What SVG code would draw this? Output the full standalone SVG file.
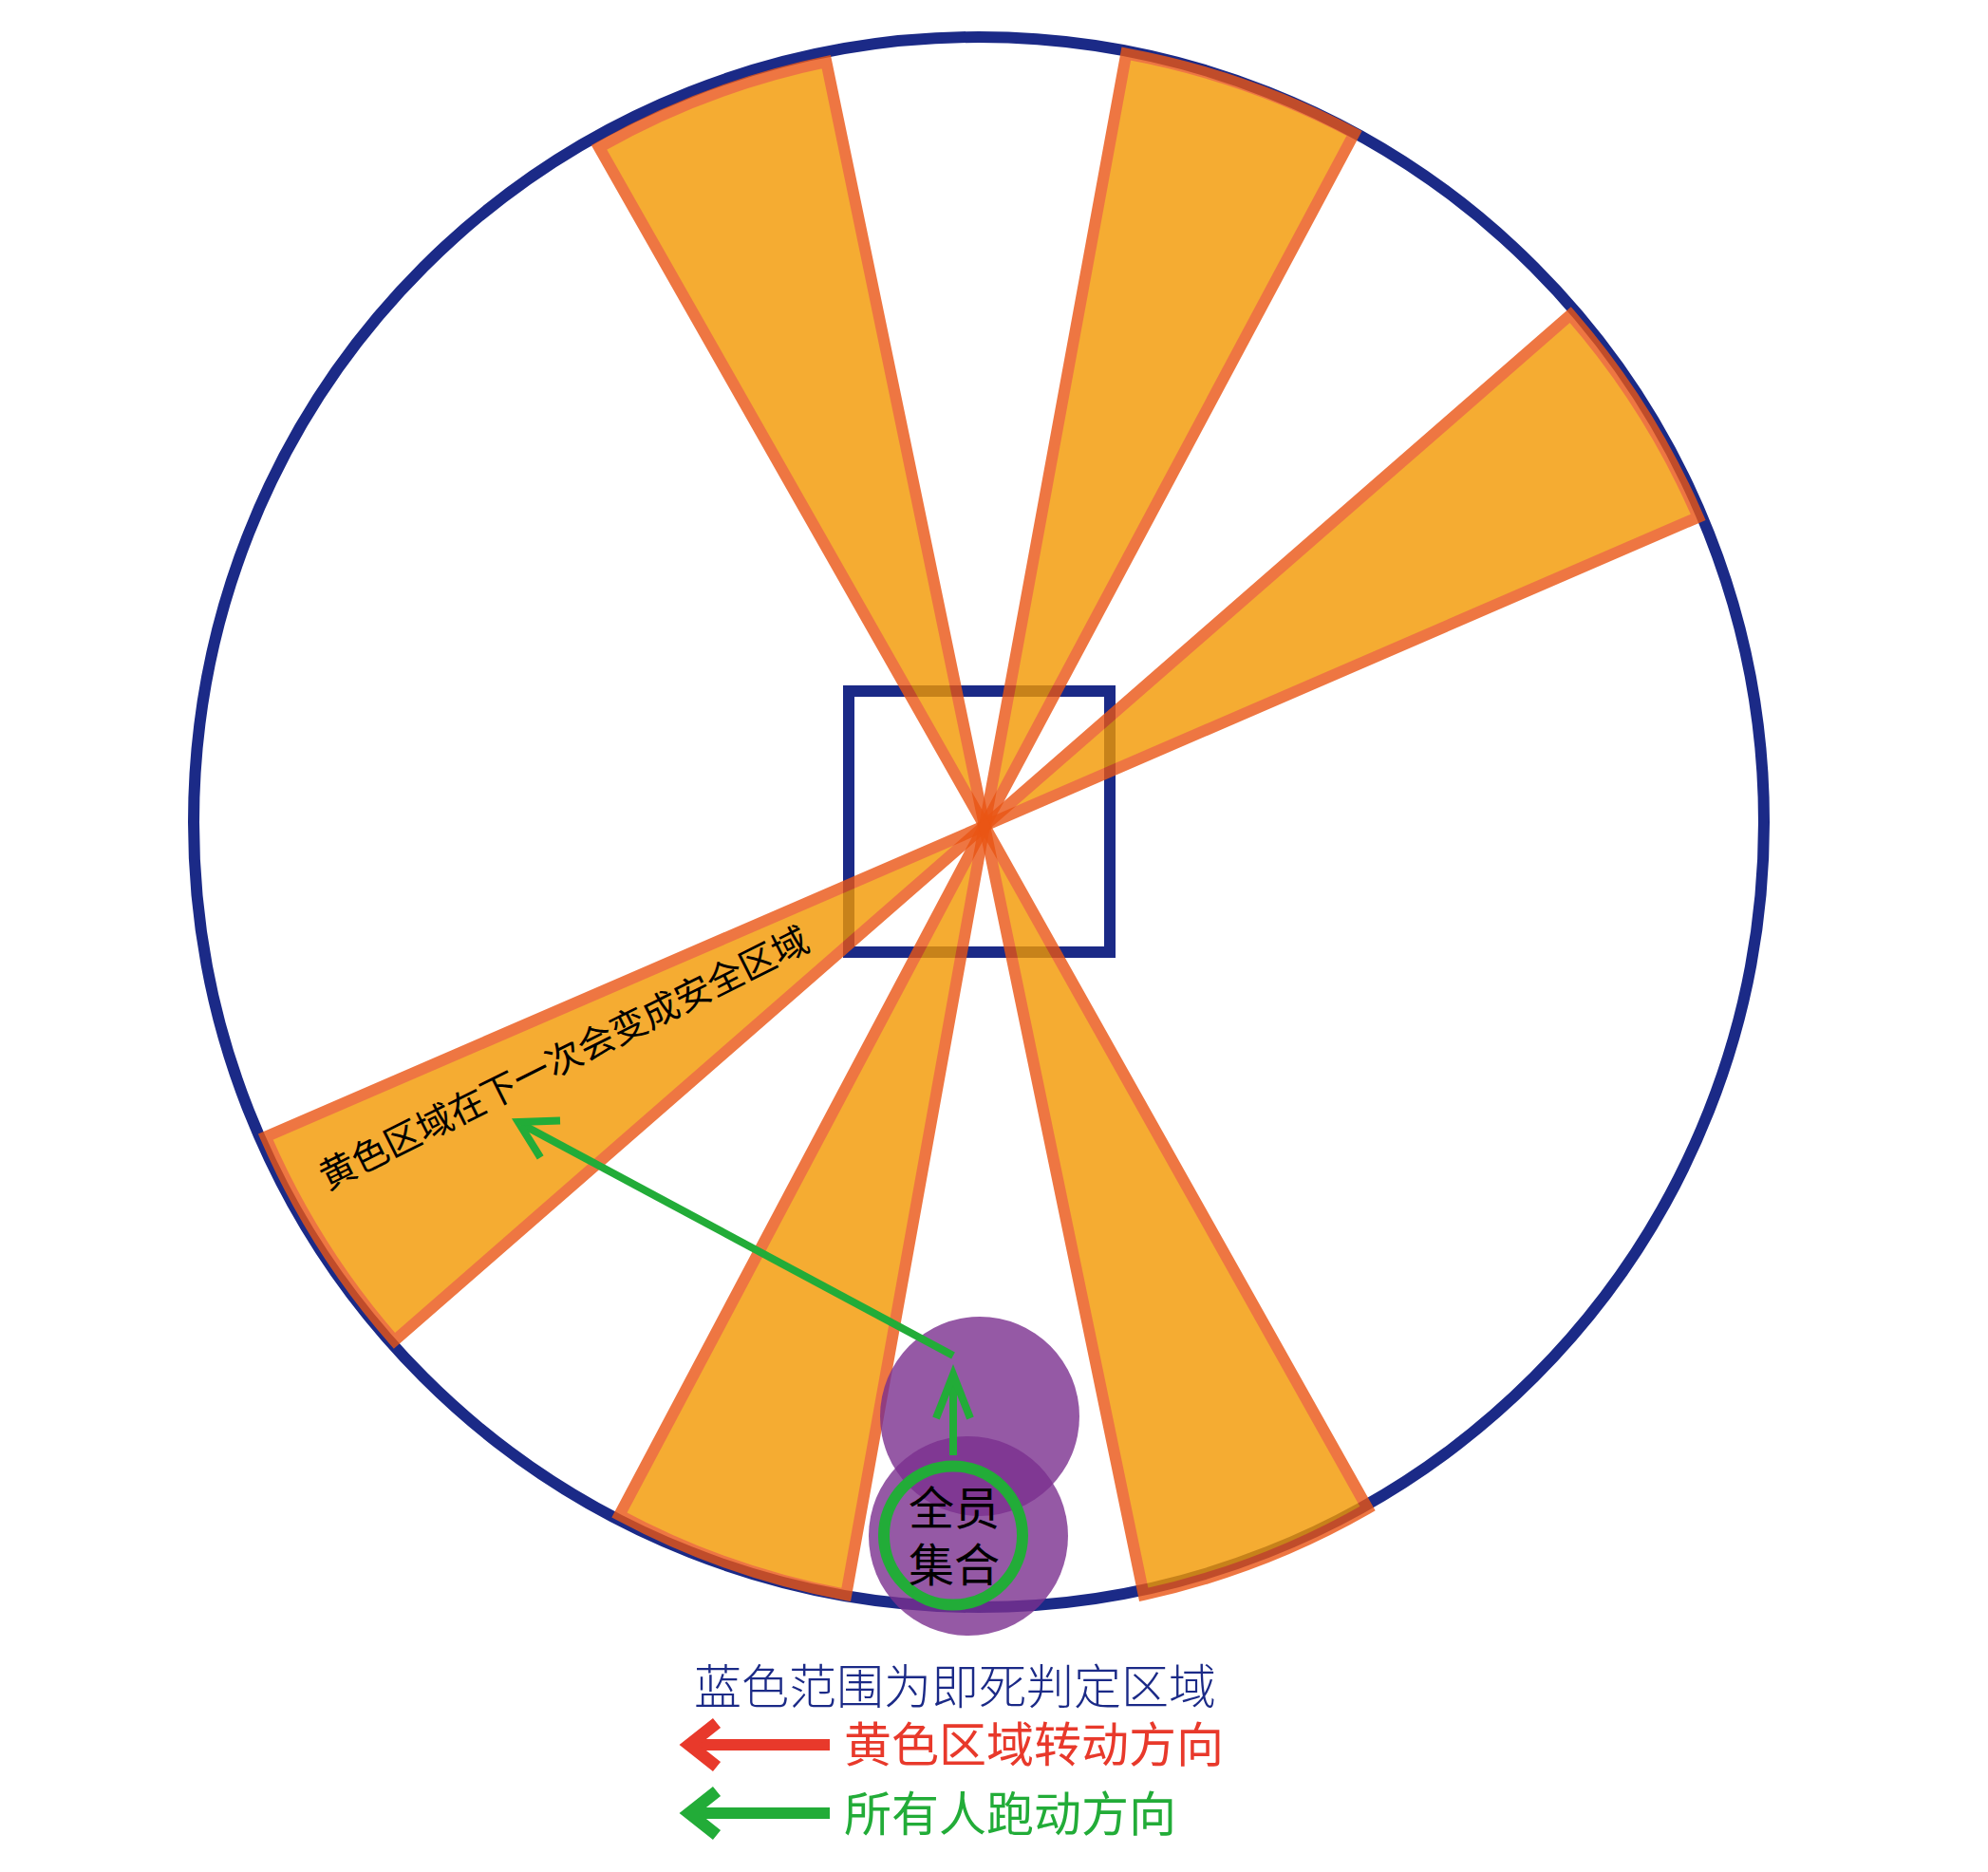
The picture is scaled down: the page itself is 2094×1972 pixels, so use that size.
<svg xmlns="http://www.w3.org/2000/svg" width="2094" height="1972" viewBox="0 0 2094 1972">
  <style>
    .blue { fill: none; stroke: #1B2A87; stroke-width: 12; }
    .wedge { fill: #F39800; stroke: #EA5514; stroke-width: 12; stroke-miterlimit: 10; stroke-linejoin: miter; opacity: 0.8; }
    .dot { fill: #7B308F; opacity: 0.8; }
    .grn { fill: none; stroke: #22AC38; stroke-width: 8; }
    .cjk { font-family: "Noto Sans CJK SC", "Noto Sans", sans-serif; }
  </style>
  <rect width="2094" height="1972" fill="#FFFFFF"/>

  <g id="arena">
    <circle class="blue" cx="1031" cy="866" r="827"/>
  </g>
  <g id="center-box">
    <rect class="blue" x="894" y="728" width="275" height="275"/>
  </g>

  <g id="wedges">
    <path id="wedge-1" class="wedge" d="M1037,870 L631.0,155.3 A822,822 0 0 1 870.3,65.1 Z"/>
    <path id="wedge-2" class="wedge" d="M1037,870 L1186.3,56.6 A827,827 0 0 1 1426.5,140.5 Z"/>
    <path id="wedge-3" class="wedge" d="M1037,870 L1654.2,331.6 A819,819 0 0 1 1788.7,544.8 Z"/>
    <path id="wedge-4" class="wedge" d="M1037,870 L415.4,1412.4 A825,825 0 0 1 279.8,1197.6 Z"/>
    <path id="wedge-5" class="wedge" d="M1037,870 L891.2,1680.0 A823,823 0 0 1 652.4,1596.0 Z"/>
    <path id="wedge-6" class="wedge" d="M1037,870 L1440.5,1589.1 A825,825 0 0 1 1204.7,1679.8 Z"/>
  </g>

  <g id="wedge-label">
    <text class="cjk" x="345" y="1254" font-size="38" fill="#000000" transform="rotate(-26.5 345 1254)">黄色区域在下一次会变成安全区域</text>
  </g>

  <g id="players">
    <circle class="dot" cx="1032" cy="1492" r="105"/>
    <circle class="dot" cx="1020" cy="1618" r="105"/>
  </g>

  <g id="gather">
    <circle cx="1004" cy="1617.5" r="73" fill="none" stroke="#22AC38" stroke-width="12"/>
    <text class="cjk" x="1005" y="1606" font-size="48" fill="#000000" text-anchor="middle">全员</text>
    <text class="cjk" x="1005" y="1666" font-size="48" fill="#000000" text-anchor="middle">集合</text>
  </g>

  <g id="connectors">
    <line class="grn" x1="1004" y1="1533" x2="1004" y2="1450"/>
    <polyline class="grn" points="986,1494 1004,1448 1022,1494"/>
    <line class="grn" x1="1004" y1="1428" x2="549" y2="1184"/>
    <polyline class="grn" points="590,1180.6 546,1182 569.2,1219.4"/>
  </g>

  <g id="legend">
    <text class="cjk" x="731" y="1795" font-size="50" fill="#1B2A87" font-weight="300">蓝色范围为即死判定区域</text>
    <line x1="874" y1="1838" x2="732" y2="1838" stroke="#E8392B" stroke-width="12"/>
    <polyline points="755,1815 726,1838 755,1861" fill="none" stroke="#E8392B" stroke-width="13"/>
    <text class="cjk" x="889" y="1856" font-size="50" fill="#E8392B">黄色区域转动方向</text>
    <line x1="874" y1="1910" x2="732" y2="1910" stroke="#22AC38" stroke-width="12"/>
    <polyline points="755,1887 726,1910 755,1933" fill="none" stroke="#22AC38" stroke-width="13"/>
    <text class="cjk" x="889" y="1929" font-size="50" fill="#22AC38">所有人跑动方向</text>
  </g>
</svg>
